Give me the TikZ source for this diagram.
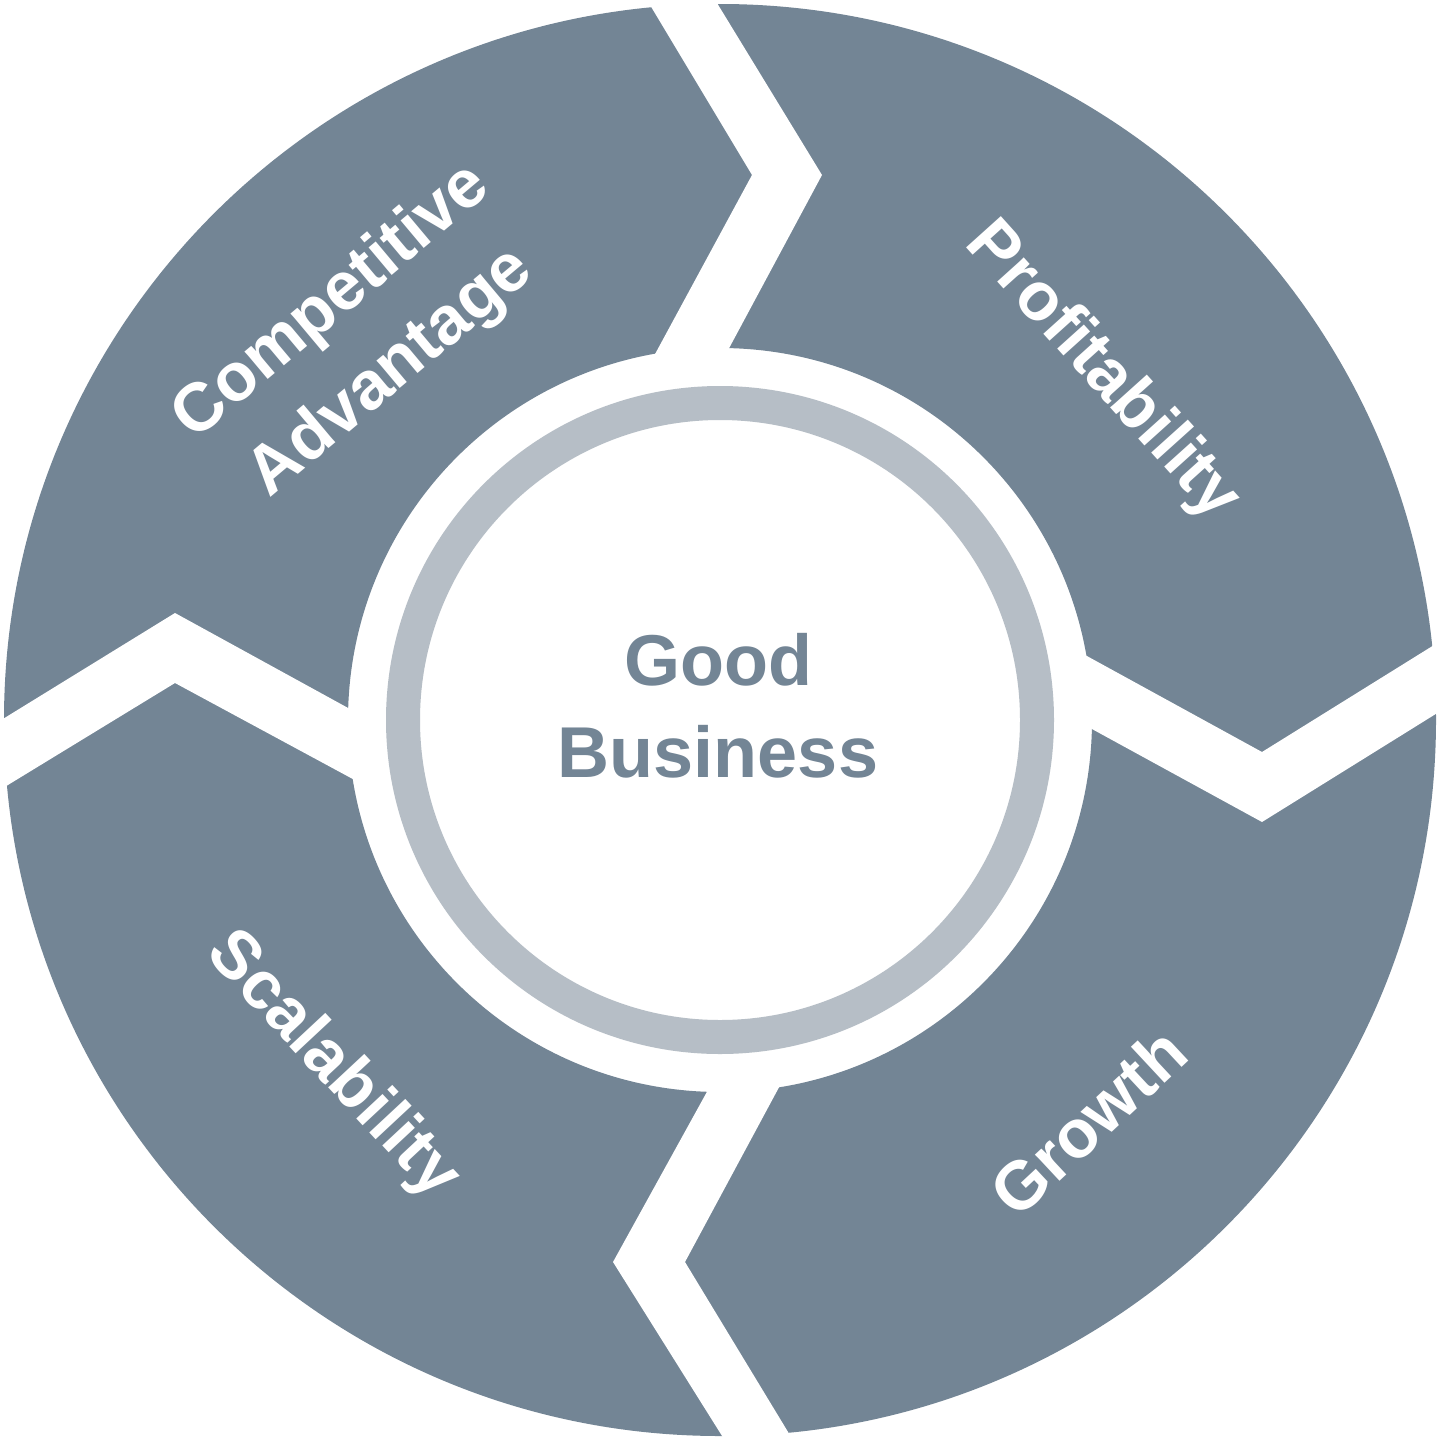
\documentclass[tikz,border=0pt]{standalone}
\usepackage{fontspec}
\setmainfont{Liberation Sans}
\begin{document}
\begin{tikzpicture}[x=0.5pt,y=-0.5pt,
  seg/.style={fill=segc},
  gap/.style={fill=white},
  lab/.style={text=white,font=\bfseries\fontsize{34}{46}\selectfont,align=center}]
\definecolor{segc}{HTML}{738595}
\definecolor{ringc}{HTML}{B6BEC6}
\useasboundingbox (0,0) rectangle (1440,1440);
\fill[white] (0,0) rectangle (1440,1440);
\fill[segc,even odd rule] (720,720) circle[radius=716] (720,720) circle[radius=372];
\fill[gap] (638,-15) -- (752,175) -- (641,380) -- (712,380) -- (822,175) -- (706,-15) -- cycle;
\fill[gap] (-15,730) -- (175,613) -- (370,720) -- (375,791) -- (175,683) -- (-15,799) -- cycle;
\fill[gap] (1065,644) -- (1262,752) -- (1455,632) -- (1455,702) -- (1262,822) -- (1070,717) -- cycle;
\fill[gap] (719,1070) -- (613,1262) -- (734,1455) -- (802,1455) -- (685,1262) -- (791,1065) -- cycle;
\draw[ringc,line width=17pt] (720,720) circle[radius=317];
\node[lab,rotate=40] (ca) at (362,338) {Competitive\\Advantage};
\node[lab,rotate=-48] (pr) at (1102,372) {Profitability};
\node[lab,rotate=43] (gr) at (1088,1122) {Growth};
\node[lab,rotate=-47] (sc) at (332,1066) {Scalability};
\node[text=segc,font=\bfseries\fontsize{36}{46}\selectfont,align=center] (gb) at (718,706) {Good\\Business};
\end{tikzpicture}
\end{document}
